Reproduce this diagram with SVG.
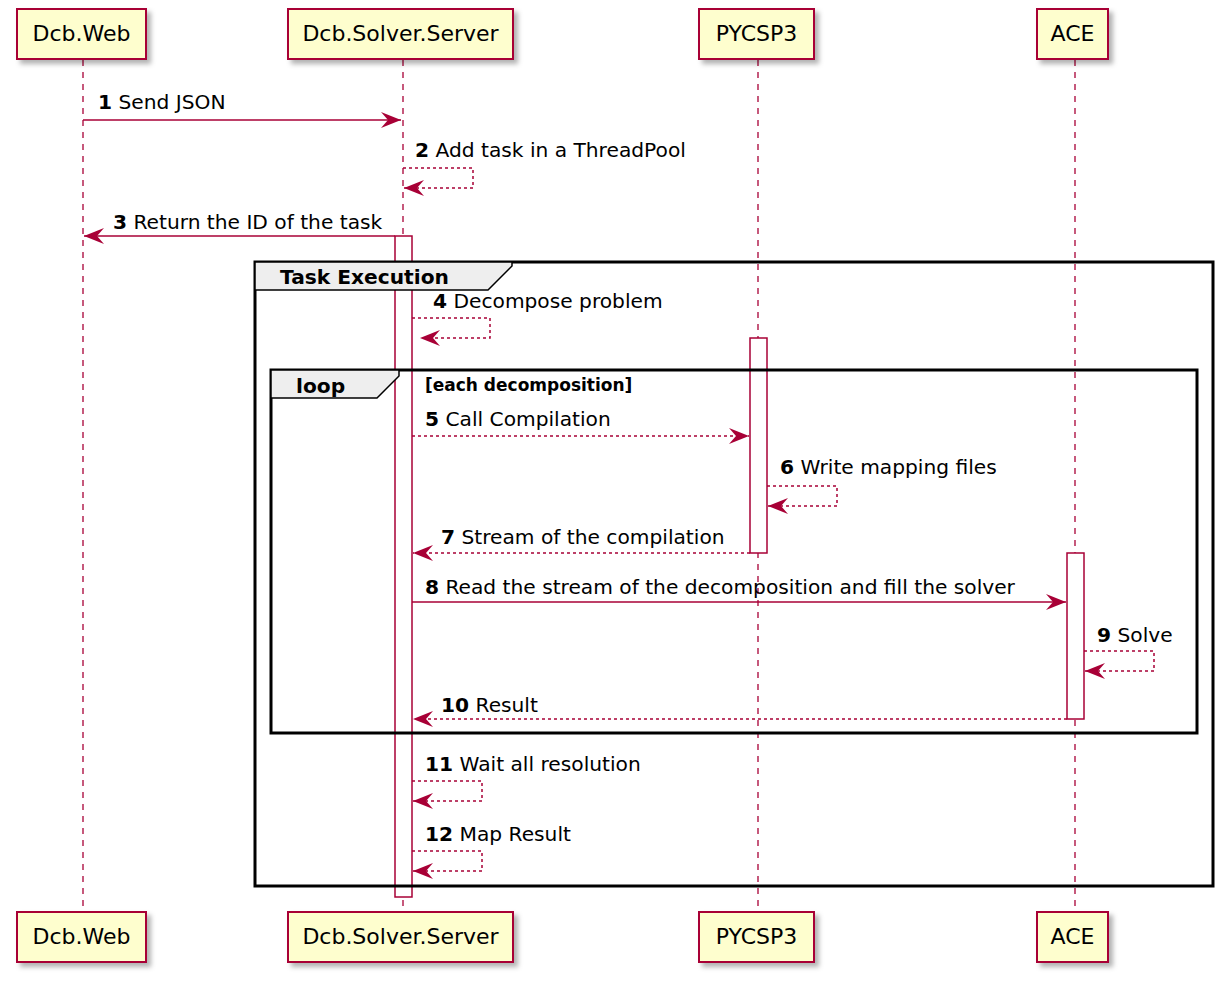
<svg xmlns="http://www.w3.org/2000/svg" width="1232" height="981" viewBox="0 0 1232 981">
<style>
text{font-family:"DejaVu Sans","Liberation Sans",sans-serif;font-size:20.2px;fill:#000}
.b{font-weight:bold}
.p{font-size:22px}
.life{stroke:#A80036;stroke-width:1.3;stroke-dasharray:6,6}
.box{fill:#FEFECE;stroke:#A80036;stroke-width:2;filter:url(#sh)}
.act{fill:#fff;stroke:#A80036;stroke-width:1.5}
.m{stroke:#A80036;stroke-width:1.5;fill:none;marker-end:url(#ar)}
.d{stroke-dasharray:3,3}
.frame{fill:none;stroke:#000;stroke-width:3}
.tab{fill:#EEEEEE;stroke:#000;stroke-width:1.5}
</style>
<defs>
<filter id="sh" x="-10%" y="-10%" width="130%" height="150%"><feDropShadow dx="4" dy="4" stdDeviation="2.5" flood-color="#000" flood-opacity="0.3"/></filter>
<marker id="ar" viewBox="0 0 20 16" refX="20" refY="8" markerWidth="20" markerHeight="16" markerUnits="userSpaceOnUse" orient="auto"><path d="M0,0 L20,8 L0,16 L7,8 Z" fill="#A80036"/></marker>
</defs>
<g id="lifelines">
<line class="life" x1="83" y1="60" x2="83" y2="912"/>
<line class="life" x1="403" y1="60" x2="403" y2="912"/>
<line class="life" x1="758" y1="60" x2="758" y2="912"/>
<line class="life" x1="1075" y1="60" x2="1075" y2="912"/>
</g>
<g id="activations">
<rect class="act" x="395" y="236" width="17" height="661"/>
<rect class="act" x="750" y="338" width="17" height="215"/>
<rect class="act" x="1067" y="553" width="17" height="166"/>
</g>
<g id="frame-task">
<rect class="frame" x="255" y="262" width="958" height="624"/>
<path class="tab" d="M255,262 H512 V266 L488,290 H255 Z"/>
<text class="b" x="280" y="284">Task Execution</text>
</g>
<g id="frame-loop">
<rect class="frame" x="271" y="370" width="926" height="363"/>
<path class="tab" d="M271,370 H399 V376 L377,398 H271 Z"/>
<text class="b" x="296" y="393">loop</text>
<text class="b" x="425" y="391" style="font-size:17px">[each decomposition]</text>
</g>
<g id="connectors">
<line class="m" x1="83" y1="120" x2="401" y2="120"/>
<path class="m d" d="M403,168 H473 V188 H404"/>
<line class="m" x1="395" y1="236" x2="84" y2="236"/>
<path class="m d" d="M412,318 H490 V338 H420"/>
<line class="m d" x1="412" y1="436" x2="749" y2="436"/>
<path class="m d" d="M767,486 H837 V506 H768"/>
<line class="m d" x1="750" y1="553" x2="413" y2="553"/>
<line class="m" x1="412" y1="602" x2="1066" y2="602"/>
<path class="m d" d="M1084,651 H1154 V671 H1085"/>
<line class="m d" x1="1067" y1="719" x2="413" y2="719"/>
<path class="m d" d="M412,781 H482 V801 H413"/>
<path class="m d" d="M412,851 H482 V871 H413"/>
</g>
<g id="labels">
<text x="98" y="109"><tspan class="b">1</tspan> Send JSON</text>
<text x="415" y="157"><tspan class="b">2</tspan> Add task in a ThreadPool</text>
<text x="113" y="229"><tspan class="b">3</tspan> Return the ID of the task</text>
<text x="433" y="308"><tspan class="b">4</tspan> Decompose problem</text>
<text x="425" y="426"><tspan class="b">5</tspan> Call Compilation</text>
<text x="780" y="474"><tspan class="b">6</tspan> Write mapping files</text>
<text x="441" y="544"><tspan class="b">7</tspan> Stream of the compilation</text>
<text x="425" y="594"><tspan class="b">8</tspan> Read the stream of the decomposition and fill the solver</text>
<text x="1097" y="642"><tspan class="b">9</tspan> Solve</text>
<text x="441" y="712"><tspan class="b">10</tspan> Result</text>
<text x="425" y="771"><tspan class="b">11</tspan> Wait all resolution</text>
<text x="425" y="841"><tspan class="b">12</tspan> Map Result</text>
</g>
<g id="p-web"><rect class="box" x="17" y="9" width="129" height="50"/><text class="p" x="81.5" y="41" text-anchor="middle">Dcb.Web</text></g>
<g id="p-server"><rect class="box" x="288" y="9" width="225" height="50"/><text class="p" x="400.5" y="41" text-anchor="middle">Dcb.Solver.Server</text></g>
<g id="p-pycsp3"><rect class="box" x="699" y="9" width="115" height="50"/><text class="p" x="756.5" y="41" text-anchor="middle">PYCSP3</text></g>
<g id="p-ace"><rect class="box" x="1037" y="9" width="71" height="50"/><text class="p" x="1072.5" y="41" text-anchor="middle">ACE</text></g>
<g id="p-web-b"><rect class="box" x="17" y="912" width="129" height="50"/><text class="p" x="81.5" y="944" text-anchor="middle">Dcb.Web</text></g>
<g id="p-server-b"><rect class="box" x="288" y="912" width="225" height="50"/><text class="p" x="400.5" y="944" text-anchor="middle">Dcb.Solver.Server</text></g>
<g id="p-pycsp3-b"><rect class="box" x="699" y="912" width="115" height="50"/><text class="p" x="756.5" y="944" text-anchor="middle">PYCSP3</text></g>
<g id="p-ace-b"><rect class="box" x="1037" y="912" width="71" height="50"/><text class="p" x="1072.5" y="944" text-anchor="middle">ACE</text></g>
</svg>
